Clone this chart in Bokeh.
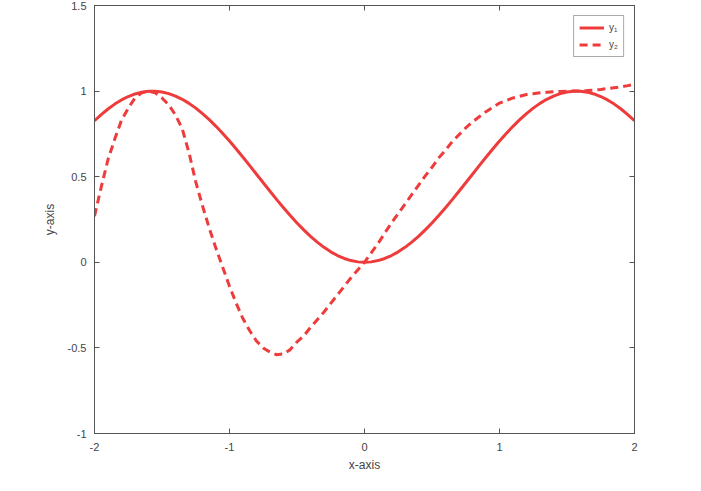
from bokeh.plotting import figure
from bokeh.models import LinearAxis, FixedTicker, Range1d, Legend, LegendItem
from bokeh.embed import file_html
from bokeh.resources import INLINE

x_vals = [-2.00, -1.95, -1.90, -1.85, -1.80, -1.75, -1.70, -1.65, -1.60, -1.55,
          -1.50, -1.45, -1.40, -1.35, -1.30, -1.25, -1.20, -1.15, -1.10, -1.05,
          -1.00, -0.95, -0.90, -0.85, -0.80, -0.75, -0.70, -0.65, -0.60, -0.55,
          -0.50, -0.45, -0.40, -0.35, -0.30, -0.25, -0.20, -0.15, -0.10, -0.05,
          0.00, 0.05, 0.10, 0.15, 0.20, 0.25, 0.30, 0.35, 0.40, 0.45,
          0.50, 0.55, 0.60, 0.65, 0.70, 0.75, 0.80, 0.85, 0.90, 0.95,
          1.00, 1.05, 1.10, 1.15, 1.20, 1.25, 1.30, 1.35, 1.40, 1.45,
          1.50, 1.55, 1.60, 1.65, 1.70, 1.75, 1.80, 1.85, 1.90, 1.95, 2.00]

y1_vals = [0.8268, 0.8630, 0.8955, 0.9241, 0.9484, 0.9683, 0.9835, 0.9938, 0.9992, 0.9996,
           0.9950, 0.9854, 0.9711, 0.9520, 0.9284, 0.9006, 0.8687, 0.8332, 0.7942, 0.7524,
           0.7081, 0.6616, 0.6136, 0.5645, 0.5146, 0.4646, 0.4150, 0.3663, 0.3188, 0.2732,
           0.2298, 0.1892, 0.1516, 0.1176, 0.0873, 0.0612, 0.0395, 0.0223, 0.0100, 0.0025,
           0.0000, 0.0025, 0.0100, 0.0223, 0.0395, 0.0612, 0.0873, 0.1176, 0.1516, 0.1892,
           0.2298, 0.2732, 0.3188, 0.3663, 0.4150, 0.4646, 0.5146, 0.5645, 0.6136, 0.6616,
           0.7081, 0.7524, 0.7942, 0.8332, 0.8687, 0.9006, 0.9284, 0.9520, 0.9711, 0.9854,
           0.9950, 0.9996, 0.9992, 0.9938, 0.9835, 0.9683, 0.9484, 0.9241, 0.8955, 0.8630, 0.8268]

y2_vals = [0.27, 0.44, 0.60, 0.72, 0.83, 0.90, 0.96, 0.99, 1.00, 0.99,
           0.96, 0.92, 0.86, 0.78, 0.64, 0.47, 0.33, 0.20, 0.08, -0.03,
           -0.14, -0.24, -0.33, -0.40, -0.46, -0.50, -0.525, -0.54, -0.535, -0.51,
           -0.465, -0.43, -0.38, -0.335, -0.29, -0.24, -0.19, -0.14, -0.09, -0.045,
           0.00, 0.055, 0.11, 0.17, 0.23, 0.285, 0.34, 0.395, 0.45, 0.505,
           0.555, 0.61, 0.655, 0.705, 0.745, 0.785, 0.82, 0.85, 0.88, 0.905,
           0.93, 0.945, 0.96, 0.97, 0.98, 0.985, 0.99, 0.993, 0.996, 0.998,
           1.00, 1.00, 1.001, 1.003, 1.006, 1.01, 1.015, 1.02, 1.025, 1.032, 1.04]

x_ticks = [-2, -1, 0, 1, 2]
x_tick_labels = ["-2", "-1", "0", "1", "2"]
y_ticks = [-1, -0.5, 0, 0.5, 1, 1.5]
y_tick_labels = ["-1", "-0.5", "0", "0.5", "1", "1.5"]
series_labels = ["y\u2081", "y\u2082"]

FONT = "Liberation Sans"
AXIS_COLOR = "#555555"
TEXT_COLOR = "#444444"
LINE_COLOR = "#ee3b3b"

p = figure(frame_width=540, frame_height=428,
           x_range=Range1d(-2, 2), y_range=Range1d(-1, 1.5),
           output_backend="svg", toolbar_location=None,
           min_border_left=94, min_border_right=59, min_border_top=5, min_border_bottom=44,
           x_axis_label="x-axis", y_axis_label="y-axis")
p.grid.visible = False
p.background_fill_color = "white"
p.border_fill_color = "white"
p.outline_line_color = AXIS_COLOR
p.outline_line_width = 1

bottom_ax = p.below[0]
left_ax = p.left[0]
top_ax = LinearAxis()
right_ax = LinearAxis()
p.add_layout(top_ax, "above")
p.add_layout(right_ax, "right")

for ax in [bottom_ax, top_ax]:
    ax.ticker = FixedTicker(ticks=x_ticks, minor_ticks=[])
for ax in [left_ax, right_ax]:
    ax.ticker = FixedTicker(ticks=y_ticks, minor_ticks=[])

bottom_ax.major_label_overrides = dict(zip(x_ticks, x_tick_labels))
left_ax.major_label_overrides = dict(zip(y_ticks, y_tick_labels))
top_ax.major_label_overrides = {t: "" for t in x_ticks}
right_ax.major_label_overrides = {t: "" for t in y_ticks}

for ax in [bottom_ax, left_ax, top_ax, right_ax]:
    ax.major_tick_in = 5
    ax.major_tick_out = 0
    ax.minor_tick_in = 0
    ax.minor_tick_out = 0
    ax.axis_line_color = AXIS_COLOR
    ax.major_tick_line_color = AXIS_COLOR
    ax.major_label_text_font = FONT
    ax.major_label_text_font_size = "11px"
    ax.major_label_text_color = TEXT_COLOR
    ax.axis_label_text_font = FONT
    ax.axis_label_text_font_size = "12px"
    ax.axis_label_text_font_style = "normal"
    ax.axis_label_text_color = TEXT_COLOR

for ax in [top_ax, right_ax]:
    ax.major_label_standoff = 0

bottom_ax.major_label_standoff = 9
bottom_ax.axis_label_standoff = 4
left_ax.major_label_standoff = 8
left_ax.axis_label_standoff = 8

r1 = p.line(x_vals, y1_vals, line_color=LINE_COLOR, line_width=3)
r2 = p.line(x_vals, y2_vals, line_color=LINE_COLOR, line_width=3, line_dash="8 5")

legend = Legend(items=[LegendItem(label=series_labels[0], renderers=[r1]),
                       LegendItem(label=series_labels[1], renderers=[r2])],
                location="top_right")
legend.label_text_font = FONT
legend.label_text_font_size = "10px"
legend.label_text_color = TEXT_COLOR
legend.border_line_color = AXIS_COLOR
legend.border_line_width = 1
legend.glyph_width = 25
legend.glyph_height = 13
legend.label_height = 13
legend.label_width = 8
legend.spacing = 4
legend.padding = 5
legend.margin = 10
legend.label_standoff = 5
legend.background_fill_alpha = 1
p.add_layout(legend)

open("out.html", "w").write(file_html(p, INLINE))
